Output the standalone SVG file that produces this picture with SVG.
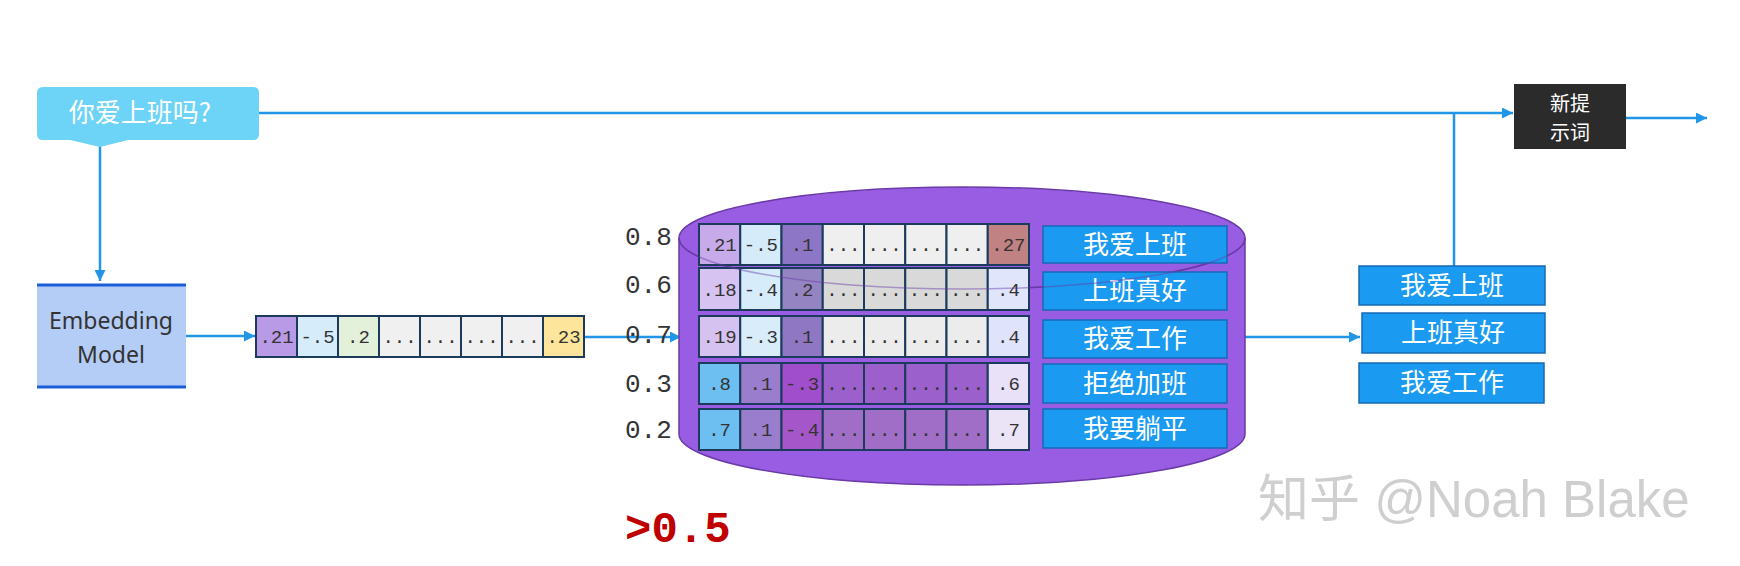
<svg xmlns="http://www.w3.org/2000/svg" width="1740" height="566" viewBox="0 0 1740 566">
<style>
.ln{stroke:#2196e6;stroke-width:2.5;fill:none}
.cell{stroke:#1b3a5c;stroke-width:2}
.ct{font-family:"Liberation Mono",monospace;font-size:19px;fill:#333;text-anchor:middle}
.lbl{font-family:"Liberation Mono",monospace;font-size:26px;fill:#333}
.cjk{font-family:"Noto Sans CJK SC",sans-serif;font-size:26px;fill:#fff;text-anchor:middle}
.tb{fill:#1a9af0;stroke:#1769b8;stroke-width:1.5}
</style>
<defs>
<marker id="ah" viewBox="0 0 10 10" refX="10" refY="5" markerWidth="5" markerHeight="4.4" orient="auto" markerUnits="strokeWidth">
<path d="M0,0 L10,5 L0,10 Z" fill="#2196e6"/>
</marker>
</defs>
<rect width="1740" height="566" fill="#fff"/>

<g id="watermark">
<text x="1258" y="517" font-family="'Liberation Sans','Noto Sans CJK SC',sans-serif" font-size="51" fill="#cfcfcf">知乎 @Noah Blake</text>
</g>

<g id="connectors">
<line class="ln" x1="259" y1="113" x2="1513" y2="113" marker-end="url(#ah)"/>
<line class="ln" x1="100" y1="146" x2="100" y2="281" marker-end="url(#ah)"/>
<line class="ln" x1="186" y1="336" x2="255" y2="336" marker-end="url(#ah)"/>
<line class="ln" x1="584" y1="337" x2="681" y2="337" marker-end="url(#ah)"/>
<line class="ln" x1="1245" y1="337" x2="1360" y2="337" marker-end="url(#ah)"/>
<line class="ln" x1="1454" y1="266" x2="1454" y2="113"/>
<line class="ln" x1="1626" y1="118" x2="1707" y2="118" marker-end="url(#ah)"/>
</g>

<g id="question">
<path d="M43,87 H253 Q259,87 259,93 V134 Q259,140 253,140 H128 L100,147 L70,140 H43 Q37,140 37,134 V93 Q37,87 43,87 Z" fill="#6dd3f7"/>
<text x="140" y="122" font-family="'Noto Sans CJK SC',sans-serif" font-size="26" fill="#fff" text-anchor="middle">你爱上班吗?</text>
</g>

<g id="embedding-model">
<rect x="37" y="284" width="149" height="104" fill="#b3cdf6"/>
<line x1="37" y1="285" x2="186" y2="285" stroke="#1b5ed8" stroke-width="3"/>
<line x1="37" y1="387" x2="186" y2="387" stroke="#1b5ed8" stroke-width="3"/>
<text x="111" y="329" font-family="'Noto Sans',sans-serif" font-size="23" fill="#333" text-anchor="middle">Embedding</text>
<text x="111" y="363" font-family="'Noto Sans',sans-serif" font-size="23" fill="#333" text-anchor="middle">Model</text>
</g>

<g id="query-vector">
<rect class="cell" x="256" y="316" width="41" height="41" fill="#b99ae6"/>
<rect class="cell" x="297" y="316" width="41" height="41" fill="#d6ecfb"/>
<rect class="cell" x="338" y="316" width="41" height="41" fill="#e3f0da"/>
<rect class="cell" x="379" y="316" width="41" height="41" fill="#f0f0f0"/>
<rect class="cell" x="420" y="316" width="41" height="41" fill="#f0f0f0"/>
<rect class="cell" x="461" y="316" width="41" height="41" fill="#f0f0f0"/>
<rect class="cell" x="502" y="316" width="41" height="41" fill="#f0f0f0"/>
<rect class="cell" x="543" y="316" width="41" height="41" fill="#fde59b"/>
<text class="ct" x="276.5" y="343">.21</text>
<text class="ct" x="317.5" y="343">-.5</text>
<text class="ct" x="358.5" y="343">.2</text>
<text class="ct" x="399.5" y="343">...</text>
<text class="ct" x="440.5" y="343">...</text>
<text class="ct" x="481.5" y="343">...</text>
<text class="ct" x="522.5" y="343">...</text>
<text class="ct" x="563.5" y="343">.23</text>
</g>

<g id="vector-db">
<path d="M679,238 A283,51 0 0 1 1245,238 L1245,434 A283,51 0 0 1 679,434 Z" fill="#985de3" stroke="#6a3aa8" stroke-width="1.5"/>
<path d="M679,238 A283,51 0 0 0 1245,238" fill="none" stroke="#6a3aa8" stroke-width="1.5"/>

<g id="row1">
<rect class="cell" x="699" y="224" width="41.25" height="41" fill="#c6aaea"/>
<rect class="cell" x="740.25" y="224" width="41.25" height="41" fill="#d5ebfa"/>
<rect class="cell" x="781.5" y="224" width="41.25" height="41" fill="#8e76c6"/>
<rect class="cell" x="822.75" y="224" width="41.25" height="41" fill="#efefef"/>
<rect class="cell" x="864" y="224" width="41.25" height="41" fill="#efefef"/>
<rect class="cell" x="905.25" y="224" width="41.25" height="41" fill="#efefef"/>
<rect class="cell" x="946.5" y="224" width="41.25" height="41" fill="#efefef"/>
<rect class="cell" x="987.75" y="224" width="41.25" height="41" fill="#c08282"/>
<text class="ct" x="719.6" y="251">.21</text><text class="ct" x="760.9" y="251">-.5</text><text class="ct" x="802.1" y="251">.1</text><text class="ct" x="843.4" y="251">...</text><text class="ct" x="884.6" y="251">...</text><text class="ct" x="925.9" y="251">...</text><text class="ct" x="967.1" y="251">...</text><text class="ct" x="1008.4" y="251">.27</text>
</g>
<g id="row2">
<rect class="cell" x="699" y="268" width="41.25" height="42" fill="#d7c3f2"/>
<rect class="cell" x="740.25" y="268" width="41.25" height="42" fill="#d6ecfa"/>
<rect class="cell" x="781.5" y="268" width="41.25" height="42" fill="#9584c2"/>
<rect class="cell" x="822.75" y="268" width="41.25" height="42" fill="#d9d9d9"/>
<rect class="cell" x="864" y="268" width="41.25" height="42" fill="#d9d9d9"/>
<rect class="cell" x="905.25" y="268" width="41.25" height="42" fill="#d9d9d9"/>
<rect class="cell" x="946.5" y="268" width="41.25" height="42" fill="#d9d9d9"/>
<rect class="cell" x="987.75" y="268" width="41.25" height="42" fill="#e1e5fb"/>
<text class="ct" x="719.6" y="296">.18</text><text class="ct" x="760.9" y="296">-.4</text><text class="ct" x="802.1" y="296">.2</text><text class="ct" x="843.4" y="296">...</text><text class="ct" x="884.6" y="296">...</text><text class="ct" x="925.9" y="296">...</text><text class="ct" x="967.1" y="296">...</text><text class="ct" x="1008.4" y="296">.4</text>
</g>
<g id="row3">
<rect class="cell" x="699" y="316" width="41.25" height="41" fill="#d6c2f1"/>
<rect class="cell" x="740.25" y="316" width="41.25" height="41" fill="#d8ecfa"/>
<rect class="cell" x="781.5" y="316" width="41.25" height="41" fill="#8f77c4"/>
<rect class="cell" x="822.75" y="316" width="41.25" height="41" fill="#ececec"/>
<rect class="cell" x="864" y="316" width="41.25" height="41" fill="#ececec"/>
<rect class="cell" x="905.25" y="316" width="41.25" height="41" fill="#ececec"/>
<rect class="cell" x="946.5" y="316" width="41.25" height="41" fill="#ececec"/>
<rect class="cell" x="987.75" y="316" width="41.25" height="41" fill="#dfe3fb"/>
<text class="ct" x="719.6" y="343">.19</text><text class="ct" x="760.9" y="343">-.3</text><text class="ct" x="802.1" y="343">.1</text><text class="ct" x="843.4" y="343">...</text><text class="ct" x="884.6" y="343">...</text><text class="ct" x="925.9" y="343">...</text><text class="ct" x="967.1" y="343">...</text><text class="ct" x="1008.4" y="343">.4</text>
</g>
<g id="row4">
<rect class="cell" x="699" y="363" width="41.25" height="41" fill="#6cbff0"/>
<rect class="cell" x="740.25" y="363" width="41.25" height="41" fill="#9a7dcc"/>
<rect class="cell" x="781.5" y="363" width="41.25" height="41" fill="#a04ecb"/>
<rect class="cell" x="822.75" y="363" width="41.25" height="41" fill="#9b60cc"/>
<rect class="cell" x="864" y="363" width="41.25" height="41" fill="#9b60cc"/>
<rect class="cell" x="905.25" y="363" width="41.25" height="41" fill="#9b60cc"/>
<rect class="cell" x="946.5" y="363" width="41.25" height="41" fill="#9b60cc"/>
<rect class="cell" x="987.75" y="363" width="41.25" height="41" fill="#e9e1f7"/>
<text class="ct" x="719.6" y="390">.8</text><text class="ct" x="760.9" y="390">.1</text><text class="ct" x="802.1" y="390">-.3</text><text class="ct" x="843.4" y="390">...</text><text class="ct" x="884.6" y="390">...</text><text class="ct" x="925.9" y="390">...</text><text class="ct" x="967.1" y="390">...</text><text class="ct" x="1008.4" y="390">.6</text>
</g>
<g id="row5">
<rect class="cell" x="699" y="409" width="41.25" height="41" fill="#6cbff0"/>
<rect class="cell" x="740.25" y="409" width="41.25" height="41" fill="#9a7dcc"/>
<rect class="cell" x="781.5" y="409" width="41.25" height="41" fill="#a557c9"/>
<rect class="cell" x="822.75" y="409" width="41.25" height="41" fill="#a06ec6"/>
<rect class="cell" x="864" y="409" width="41.25" height="41" fill="#a06ec6"/>
<rect class="cell" x="905.25" y="409" width="41.25" height="41" fill="#a06ec6"/>
<rect class="cell" x="946.5" y="409" width="41.25" height="41" fill="#a06ec6"/>
<rect class="cell" x="987.75" y="409" width="41.25" height="41" fill="#ebe4f7"/>
<text class="ct" x="719.6" y="436">.7</text><text class="ct" x="760.9" y="436">.1</text><text class="ct" x="802.1" y="436">-.4</text><text class="ct" x="843.4" y="436">...</text><text class="ct" x="884.6" y="436">...</text><text class="ct" x="925.9" y="436">...</text><text class="ct" x="967.1" y="436">...</text><text class="ct" x="1008.4" y="436">.7</text>
</g>

<g id="db-texts">
<rect class="tb" x="1043" y="226" width="184" height="37"/>
<text class="cjk" x="1135" y="254">我爱上班</text>
<rect class="tb" x="1043" y="272" width="184" height="38"/>
<text class="cjk" x="1135" y="300">上班真好</text>
<rect class="tb" x="1043" y="320" width="184" height="38"/>
<text class="cjk" x="1135" y="348">我爱工作</text>
<rect class="tb" x="1043" y="364" width="184" height="39"/>
<text class="cjk" x="1135" y="393">拒绝加班</text>
<rect class="tb" x="1043" y="409" width="184" height="39"/>
<text class="cjk" x="1135" y="438">我要躺平</text>
</g>
<path d="M679,238 A283,51 0 0 0 1245,238" fill="none" stroke="#6a3aa8" stroke-width="1.5" stroke-opacity="0.45"/>
</g>

<g id="scores">
<text class="lbl" x="625" y="245">0.8</text>
<text class="lbl" x="625" y="293">0.6</text>
<text class="lbl" x="625" y="343">0.7</text>
<text class="lbl" x="625" y="392">0.3</text>
<text class="lbl" x="625" y="438">0.2</text>
</g>

<g id="threshold">
<text x="625" y="542" font-family="'Liberation Mono',monospace" font-size="44" font-weight="bold" fill="#c00000">&gt;0.5</text>
</g>

<g id="results">
<rect class="tb" x="1359" y="266" width="186" height="39"/>
<text class="cjk" x="1452" y="295">我爱上班</text>
<rect class="tb" x="1362" y="313" width="183" height="40"/>
<text class="cjk" x="1453" y="342">上班真好</text>
<rect class="tb" x="1359" y="363" width="185" height="40"/>
<text class="cjk" x="1452" y="392">我爱工作</text>
</g>

<g id="new-prompt">
<rect x="1514" y="84" width="112" height="65" fill="#2b2b2b"/>
<text x="1570" y="111" font-family="'Noto Sans CJK SC',sans-serif" font-size="20" fill="#fff" text-anchor="middle">新提</text>
<text x="1570" y="140" font-family="'Noto Sans CJK SC',sans-serif" font-size="20" fill="#fff" text-anchor="middle">示词</text>
</g>
</svg>
